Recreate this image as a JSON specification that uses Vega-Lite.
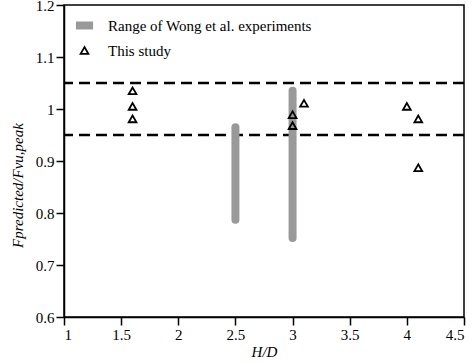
{
  "$schema": "https://vega.github.io/schema/vega-lite/v6.json",
  "width": 400,
  "height": 312,
  "autosize": {"type": "none"},
  "padding": {"left": 64, "top": 5, "right": 10, "bottom": 46},
  "background": "white",
  "config": {
    "view": {"stroke": "black", "strokeWidth": 1.5},
    "font": "Liberation Serif",
    "axis": {
      "grid": false,
      "domainColor": "black",
      "domainWidth": 1.5,
      "tickColor": "black",
      "tickWidth": 1.5,
      "tickSize": 8,
      "labelFont": "Liberation Serif",
      "labelFontSize": 15,
      "labelColor": "black",
      "titleFont": "Liberation Serif",
      "titleFontSize": 15,
      "titleFontStyle": "italic",
      "titleFontWeight": "normal",
      "titleColor": "black"
    },
    "legend": {
      "labelFont": "Liberation Serif",
      "labelFontSize": 15,
      "labelColor": "black",
      "labelLimit": 400
    }
  },
  "datasets": {
    "wong": [
      {"hd": 2.5, "low": 0.787, "high": 0.965, "series": "Range of Wong et al. experiments"},
      {"hd": 3.0, "low": 0.752, "high": 1.035, "series": "Range of Wong et al. experiments"}
    ],
    "study": [
      {"hd": 1.6, "ratio": 1.035, "series": "This study"},
      {"hd": 1.6, "ratio": 1.005, "series": "This study"},
      {"hd": 1.6, "ratio": 0.981, "series": "This study"},
      {"hd": 3.0, "ratio": 0.989, "series": "This study"},
      {"hd": 3.0, "ratio": 0.968, "series": "This study"},
      {"hd": 3.1, "ratio": 1.011, "series": "This study"},
      {"hd": 4.0, "ratio": 1.005, "series": "This study"},
      {"hd": 4.1, "ratio": 0.981, "series": "This study"},
      {"hd": 4.1, "ratio": 0.887, "series": "This study"}
    ],
    "bounds": [
      {"limit": 1.05},
      {"limit": 0.95}
    ]
  },
  "layer": [
    {
      "data": {"name": "bounds"},
      "mark": {"type": "rule", "color": "black", "strokeWidth": 2.5, "strokeDash": [11, 6]},
      "encoding": {
        "y": {"field": "limit", "type": "quantitative", "scale": {"domain": [0.6, 1.2]}}
      }
    },
    {
      "data": {"name": "wong"},
      "mark": {"type": "rule", "strokeCap": "round", "opacity": 1},
      "encoding": {
        "x": {"field": "hd", "type": "quantitative"},
        "y": {"field": "low", "type": "quantitative"},
        "y2": {"field": "high"},
        "color": {"field": "series", "type": "nominal"},
        "strokeWidth": {"field": "series", "type": "nominal"}
      }
    },
    {
      "data": {"name": "study"},
      "mark": {"type": "point", "filled": false, "opacity": 1},
      "encoding": {
        "x": {
          "field": "hd", "type": "quantitative",
          "scale": {"domain": [1, 4.5], "nice": false, "zero": false},
          "axis": {
            "title": "H/D",
            "values": [1, 1.25, 1.5, 1.75, 2, 2.25, 2.5, 2.75, 3, 3.25, 3.5, 3.75, 4, 4.25, 4.5],
            "labelExpr": "abs(datum.value*2 - round(datum.value*2)) < 0.001 ? format(datum.value, '~g') : ''",
            "titlePadding": 2
          }
        },
        "y": {
          "field": "ratio", "type": "quantitative",
          "scale": {"domain": [0.6, 1.2], "nice": false, "zero": false},
          "axis": {
            "title": "Fpredicted/Fvu,peak",
            "values": [0.6, 0.65, 0.7, 0.75, 0.8, 0.85, 0.9, 0.95, 1, 1.05, 1.1, 1.15, 1.2],
            "labelExpr": "abs(datum.value*10 - round(datum.value*10)) < 0.001 ? format(datum.value, '~g') : ''",
            "titlePadding": 10,
            "titleY": 180
          }
        },
        "color": {
          "field": "series", "type": "nominal",
          "scale": {"domain": ["Range of Wong et al. experiments", "This study"], "range": ["#999999", "black"]},
          "legend": {
            "title": null, "orient": "top-left", "offset": 10, "rowPadding": 1, "labelOffset": 13,
            "symbolFillColor": "transparent", "symbolOpacity": 1,
            "encode": {"symbols": {"update": {"strokeCap": {"value": "round"}}}}
          }
        },
        "shape": {
          "field": "series", "type": "nominal",
          "scale": {"domain": ["Range of Wong et al. experiments", "This study"], "range": ["M-1.4,0H1.4", "triangle-up"]}
        },
        "strokeWidth": {
          "field": "series", "type": "nominal",
          "scale": {"domain": ["Range of Wong et al. experiments", "This study"], "range": [8, 1.8]}
        },
        "size": {
          "field": "series", "type": "nominal",
          "scale": {"domain": ["Range of Wong et al. experiments", "This study"], "range": [150, 60]}
        }
      }
    }
  ]
}
